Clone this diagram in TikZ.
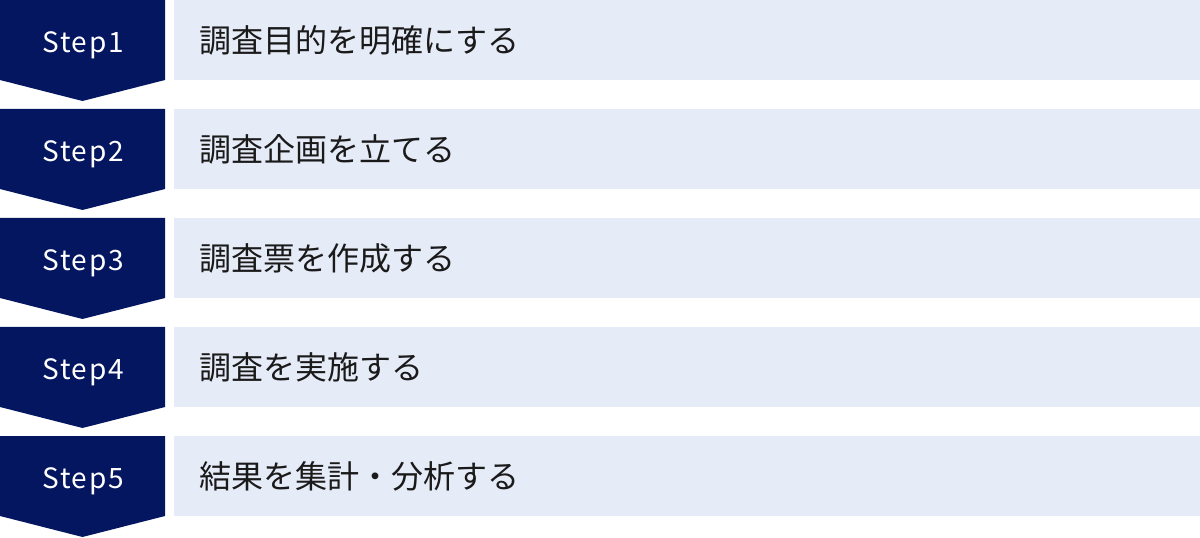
\documentclass[tikz,border=0pt]{standalone}
\usepackage{fontspec}
\setmainfont{Noto Sans CJK JP}
\newfontfamily\stepfont[LetterSpace=6]{Noto Sans CJK JP}
\usetikzlibrary{positioning}

\definecolor{navy}{RGB}{4,22,96}
\definecolor{paleblue}{RGB}{230,235,248}
\definecolor{inkgray}{RGB}{26,26,26}

\tikzset{
    steplabel/.style={text=white, font=\stepfont\fontsize{21pt}{24pt}\selectfont, inner sep=0pt, anchor=base},
    tasklabel/.style={text=inkgray, font=\fontsize{24pt}{28pt}\selectfont, inner sep=0pt, anchor=west}
}

\begin{document}
\begin{tikzpicture}[x=0.75pt, y=-0.75pt]
    \useasboundingbox (0,0) rectangle (1200,538);

    \foreach \i/\task in {1/調査目的を明確にする, 2/調査企画を立てる, 3/調査票を作成する, 4/調査を実施する, 5/結果を集計・分析する} {
        \pgfmathsetmacro{\t}{(\i-1)*109}
        % arrow block and task bar
        \fill[navy] (0,\t) -- (165,\t) -- (165,\t+80) -- (82.5,\t+101) -- (0,\t+80) -- cycle;
        \fill[paleblue] (174,\t) rectangle (1200,\t+80);
        \node[steplabel] (step\i) at (83,\t+52.5) {Step\i};
        \node[tasklabel] (task\i) at (199,\t+40.5) {\task};
    }
\end{tikzpicture}
\end{document}
